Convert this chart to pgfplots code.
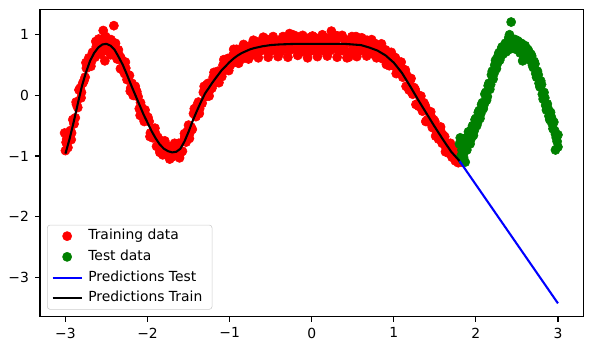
\documentclass[border=0pt]{standalone}
\usepackage{fontspec}
\setmainfont{DejaVu Sans}
\usepackage{pgfplots}
\pgfplotsset{compat=1.18}
\definecolor{mplgreen}{RGB}{0,128,0}
\begin{document}
\begin{tikzpicture}
\useasboundingbox (-28.8pt,-24.7pt) rectangle (397.4pt,228.0pt);
\begin{axis}[
  clip marker paths=true,
  scale only axis,
  width=391.2pt, height=221.3pt,
  xmin=-3.31, xmax=3.31, ymin=-3.65, ymax=1.42,
  axis line style={line width=0.8pt},
  tick align=outside, tick pos=left,
  major tick length=3.5pt,
  every tick/.style={black, line width=0.8pt},
  xtick={-3,-2,-1,0,1,2,3},
  xticklabels={−3,−2,−1,0,1,2,3},
  ytick={-3,-2,-1,0,1},
  yticklabels={−3,−2,−1,0,1},
  tick label style={font=\fontsize{10}{12}\selectfont},
  xticklabel style={yshift=-1pt},
  yticklabel style={xshift=-1pt},
  legend cell align=left,
  legend image code/.code={\draw[#1,mark repeat=2,mark phase=2] plot coordinates {(0pt,0pt)(10.5pt,0pt)(21pt,0pt)};},
  legend style={at={(0.013,0.023)}, anchor=south west,
    draw=black!20, rounded corners=2pt, fill=white,
    font=\fontsize{10}{12}\selectfont,
    inner xsep=3pt, inner ysep=3pt, row sep=4.9pt,
    nodes={inner xsep=4pt, inner ysep=0pt, text height=7.5pt, text depth=2.5pt}},
]
\addplot[only marks, mark=*, mark size=3.3pt, color=red, mark options={draw=red, fill=red}] table {
x y
-3.00 -0.91
-2.97 -0.86
-2.94 -0.58
-2.91 -0.40
-2.88 -0.37
-2.85 -0.20
-2.82 0.12
-2.79 0.20
-2.76 0.30
-2.73 0.56
-2.70 0.53
-2.67 0.71
-2.64 0.63
-2.61 0.87
-2.58 0.79
-2.55 0.78
-2.52 0.97
-2.49 0.80
-2.46 0.86
-2.43 0.74
-2.40 0.84
-2.37 0.60
-2.34 0.65
-2.31 0.57
-2.28 0.36
-2.25 0.26
-2.22 0.33
-2.19 0.20
-2.16 0.00
-2.13 0.06
-2.10 -0.22
-2.07 -0.20
-2.04 -0.43
-2.01 -0.41
-1.98 -0.43
-1.95 -0.63
-1.92 -0.56
-1.89 -0.84
-1.86 -0.73
-1.83 -0.86
-1.80 -0.76
-1.77 -0.98
-1.74 -0.87
-1.71 -1.02
-1.68 -0.87
-1.65 -0.99
-1.62 -0.79
-1.59 -0.93
-1.56 -0.75
-1.53 -0.77
-1.50 -0.49
-1.47 -0.52
-1.44 -0.30
-1.41 -0.35
-1.38 -0.11
-1.35 -0.14
-1.32 0.05
-1.29 -0.02
-1.26 0.20
-1.23 0.12
-1.20 0.30
-1.17 0.21
-1.14 0.40
-1.11 0.33
-1.08 0.50
-1.05 0.42
-1.02 0.61
-0.99 0.50
-0.96 0.66
-0.93 0.56
-0.90 0.74
-0.87 0.62
-0.84 0.79
-0.81 0.66
-0.78 0.80
-0.75 0.70
-0.72 0.86
-0.69 0.71
-0.66 0.88
-0.63 0.74
-0.60 0.90
-0.57 0.75
-0.54 0.88
-0.51 0.76
-0.48 0.92
-0.45 0.77
-0.42 0.89
-0.39 0.73
-0.36 0.93
-0.33 0.80
-0.30 0.90
-0.27 1.02
-0.24 0.76
-0.21 0.91
-0.18 0.79
-0.15 0.94
-0.12 0.72
-0.09 0.88
-0.06 0.80
-0.03 0.95
0.00 0.77
0.03 0.90
0.06 0.74
0.09 0.93
0.12 0.81
0.15 0.96
0.18 0.76
0.21 0.89
0.24 1.06
0.27 0.78
0.30 0.92
0.33 0.73
0.36 0.95
0.39 0.80
0.42 0.91
0.45 0.63
0.48 0.88
0.51 0.78
0.54 0.97
0.57 0.75
0.60 0.90
0.63 0.76
0.66 0.87
0.69 0.70
0.72 0.86
0.75 0.68
0.78 0.83
0.81 0.64
0.84 0.80
0.87 0.60
0.90 0.75
0.93 0.55
0.96 0.68
0.99 0.49
1.02 0.62
1.05 0.40
1.08 0.52
1.11 0.30
1.14 0.42
1.17 0.15
1.20 0.25
1.23 0.02
1.26 0.10
1.29 -0.14
1.32 -0.03
1.35 -0.26
1.38 -0.16
1.41 -0.40
1.44 -0.30
1.47 -0.53
1.50 -0.43
1.53 -0.66
1.56 -0.55
1.59 -0.79
1.62 -0.68
1.65 -0.90
1.68 -0.80
1.71 -1.02
1.74 -0.88
1.77 -1.08
1.80 -0.95
1.83 -1.10
-2.985 -0.72
-2.925 -0.62
-2.865 -0.15
-2.805 0.05
-2.745 0.45
-2.685 0.55
-2.625 0.80
-2.565 0.91
-2.505 0.74
-2.445 0.92
-2.385 0.66
-2.325 0.62
-2.265 0.45
-2.205 0.12
-2.145 0.10
-2.085 -0.12
-2.025 -0.32
-1.965 -0.62
-1.905 -0.62
-1.845 -0.92
-1.785 -0.85
-1.725 -1.00
-1.665 -0.86
-1.605 -0.97
-1.545 -0.68
-1.485 -0.62
-1.425 -0.28
-1.365 -0.22
-1.305 0.10
-1.245 0.08
-1.185 0.31
-1.125 0.30
-1.065 0.52
-1.005 0.48
-0.945 0.68
-0.885 0.63
-0.825 0.82
-0.765 0.69
-0.705 0.85
-0.645 0.72
-0.585 0.87
-0.525 0.72
-0.465 0.90
-0.405 0.78
-0.345 0.87
-0.285 0.75
-0.225 0.97
-0.165 0.84
-0.105 0.91
-0.045 0.74
0.015 0.92
0.075 0.82
0.135 0.74
0.195 0.94
0.255 0.83
0.315 0.98
0.375 0.74
0.435 0.87
0.495 0.72
0.555 0.89
0.615 0.78
0.675 0.91
0.735 0.72
0.795 0.80
0.855 0.74
0.915 0.58
0.975 0.62
1.035 0.56
1.095 0.45
1.155 0.34
1.215 0.06
1.275 0.03
1.335 -0.20
1.395 -0.22
1.455 -0.35
1.515 -0.58
1.575 -0.60
1.635 -0.86
1.695 -0.84
1.755 -0.97
1.815 -0.92
-2.955 -0.63
-2.895 -0.47
-2.835 0.09
-2.775 0.24
-2.715 0.62
-2.655 0.63
-2.595 0.93
-2.535 0.81
-2.475 0.90
-2.415 0.67
-2.355 0.75
-2.295 0.41
-2.235 0.34
-2.175 0.00
-2.115 -0.02
-2.055 -0.36
-1.995 -0.36
-1.935 -0.70
-1.875 -0.69
-1.815 -0.98
-1.755 -0.83
-1.695 -1.01
-1.635 -0.81
-1.575 -0.92
-1.515 -0.59
-1.455 -0.56
-1.395 -0.16
-1.335 -0.13
-1.275 0.18
-1.215 0.12
-1.155 0.38
-1.095 0.31
-1.035 0.59
-0.975 0.53
-0.915 0.76
-0.855 0.60
-0.795 0.79
-0.735 0.66
-0.675 0.87
-0.615 0.74
-0.555 0.93
-0.495 0.73
-0.435 0.89
-0.375 0.72
-0.315 0.94
-0.255 0.79
-0.195 0.98
-0.135 0.76
-0.075 0.92
-0.015 0.73
0.045 0.95
0.105 0.78
0.165 0.89
0.225 0.74
0.285 0.99
0.345 0.77
0.405 0.91
0.465 0.72
0.525 0.92
0.585 0.73
0.645 0.90
0.705 0.72
0.765 0.86
0.825 0.63
0.885 0.74
0.945 0.49
1.005 0.63
1.065 0.38
1.125 0.42
1.185 0.09
1.245 0.13
1.305 -0.18
1.365 -0.12
1.425 -0.44
1.485 -0.40
1.545 -0.72
1.605 -0.66
1.665 -0.95
1.725 -0.86
1.785 -1.11
-2.99 -0.77
-2.93 -0.73
-2.87 -0.11
-2.81 -0.04
-2.75 0.54
-2.69 0.48
-2.63 0.89
-2.57 0.68
-2.51 0.97
-2.45 0.67
-2.39 0.86
-2.33 0.44
-2.27 0.55
-2.21 0.07
-2.15 0.15
-2.09 -0.33
-2.03 -0.24
-1.97 -0.68
-1.91 -0.54
-1.85 -0.94
-1.79 -0.75
-1.73 -1.05
-1.67 -0.79
-1.61 -1.03
-1.55 -0.63
-1.49 -0.71
-1.43 -0.22
-1.37 -0.30
-1.31 0.15
-1.25 -0.01
-1.19 0.38
-1.13 0.21
-1.07 0.59
-1.01 0.41
-0.95 0.76
-0.89 0.53
-0.83 0.84
-0.77 0.60
-0.71 0.91
-0.65 0.62
-0.59 0.96
-0.53 0.63
-0.47 0.97
-0.41 0.64
-0.35 0.97
-0.29 0.63
-0.23 1.00
-0.17 0.66
-0.11 0.99
-0.05 0.62
0.01 0.98
0.07 0.64
0.13 1.00
0.19 0.65
0.25 0.97
0.31 0.63
0.37 0.99
0.43 0.62
0.49 0.97
0.55 0.64
0.61 0.95
0.67 0.65
0.73 0.92
0.79 0.62
0.85 0.85
0.91 0.51
0.97 0.71
1.03 0.36
1.09 0.55
1.15 0.15
1.21 0.28
1.27 -0.15
1.33 -0.01
1.39 -0.43
1.45 -0.27
1.51 -0.67
1.57 -0.52
1.63 -0.93
1.69 -0.79
1.75 -1.08
1.81 -0.95
-3.01 -0.62
-2.99 -0.78
-2.41 1.15
-2.54 1.07
-2.52 0.57
};
\addlegendentry{Training data}
\addplot[only marks, mark=*, mark size=3.3pt, color=mplgreen, mark options={draw=mplgreen, fill=mplgreen}] table {
x y
1.80 -0.80
1.82 -1.00
1.84 -0.72
1.86 -0.93
1.88 -0.70
1.90 -0.82
1.92 -0.62
1.94 -0.72
1.96 -0.50
1.98 -0.58
2.00 -0.38
2.02 -0.45
2.04 -0.25
2.06 -0.30
2.08 -0.12
2.10 -0.15
2.12 0.05
2.14 -0.02
2.16 0.20
2.18 0.18
2.20 0.40
2.22 0.36
2.24 0.58
2.26 0.52
2.28 0.70
2.30 0.63
2.32 0.80
2.34 0.72
2.36 0.86
2.38 0.76
2.40 0.95
2.42 0.80
2.44 0.90
2.46 0.78
2.48 0.92
2.50 0.82
2.52 0.88
2.54 0.70
2.56 0.85
2.58 0.76
2.60 0.82
2.62 0.70
2.64 0.74
2.66 0.58
2.68 0.65
2.70 0.46
2.72 0.52
2.74 0.30
2.76 0.34
2.78 0.14
2.80 0.18
2.82 -0.06
2.84 -0.04
2.86 -0.24
2.88 -0.22
2.90 -0.40
2.92 -0.36
2.94 -0.55
2.96 -0.58
2.98 -0.70
3.00 -0.85
1.81 -0.70
1.83 -0.90
1.85 -1.02
1.87 -0.78
1.89 -0.90
1.91 -0.60
1.93 -0.80
1.95 -0.55
1.97 -0.66
1.99 -0.40
2.01 -0.50
2.03 -0.28
2.05 -0.38
2.07 -0.15
2.09 -0.22
2.11 0.02
2.13 -0.08
2.15 0.16
2.17 0.10
2.19 0.34
2.21 0.27
2.23 0.50
2.25 0.44
2.27 0.65
2.29 0.58
2.31 0.76
2.33 0.68
2.35 0.82
2.37 0.72
2.39 0.88
2.41 0.76
2.43 0.94
2.45 0.82
2.47 0.86
2.49 0.76
2.51 0.90
2.53 0.80
2.55 0.86
2.57 0.72
2.59 0.80
2.61 0.66
2.63 0.76
2.65 0.62
2.67 0.68
2.69 0.50
2.71 0.56
2.73 0.36
2.75 0.40
2.77 0.20
2.79 0.24
2.81 0.02
2.83 0.05
2.85 -0.16
2.87 -0.14
2.89 -0.34
2.91 -0.28
2.93 -0.47
2.95 -0.44
2.97 -0.64
2.99 -0.76
2.43 1.21
2.41 1.00
1.84 -1.07
1.87 -1.10
2.97 -0.90
3.00 -0.65
2.57 0.57
};
\addlegendentry{Test data}
\addplot[blue, line width=1.5pt] coordinates {(1.80,-1.08) (3.00,-3.43)};
\addlegendentry{Predictions Test}
\addplot[black, line width=1.5pt] coordinates {
(-3.00,-0.96) (-2.95,-0.72) (-2.90,-0.44) (-2.85,-0.14) (-2.80,0.15)
(-2.75,0.38) (-2.70,0.57) (-2.65,0.70) (-2.60,0.79) (-2.55,0.84)
(-2.50,0.85) (-2.45,0.82) (-2.40,0.75) (-2.35,0.63) (-2.30,0.50)
(-2.25,0.34) (-2.20,0.17) (-2.15,0.01) (-2.10,-0.15) (-2.05,-0.31)
(-2.00,-0.45) (-1.95,-0.59) (-1.90,-0.71) (-1.85,-0.81) (-1.80,-0.88)
(-1.75,-0.92) (-1.70,-0.94) (-1.65,-0.93) (-1.60,-0.88) (-1.55,-0.76)
(-1.50,-0.60) (-1.45,-0.42) (-1.40,-0.26) (-1.35,-0.11) (-1.30,0.03)
(-1.25,0.13) (-1.20,0.23) (-1.15,0.32) (-1.10,0.41) (-1.05,0.48)
(-1.00,0.55) (-0.95,0.61) (-0.90,0.66) (-0.85,0.70) (-0.80,0.73)
(-0.75,0.76) (-0.70,0.78) (-0.60,0.81) (-0.50,0.83) (-0.40,0.84)
(-0.20,0.85) (0.00,0.85) (0.20,0.85) (0.40,0.85) (0.50,0.84)
(0.60,0.83) (0.70,0.79) (0.80,0.74) (0.90,0.66) (1.00,0.54)
(1.10,0.37) (1.20,0.15) (1.30,-0.08) (1.40,-0.30) (1.50,-0.52)
(1.60,-0.73) (1.70,-0.93) (1.80,-1.08)
};
\addlegendentry{Predictions Train}
\end{axis}
\end{tikzpicture}
\end{document}
